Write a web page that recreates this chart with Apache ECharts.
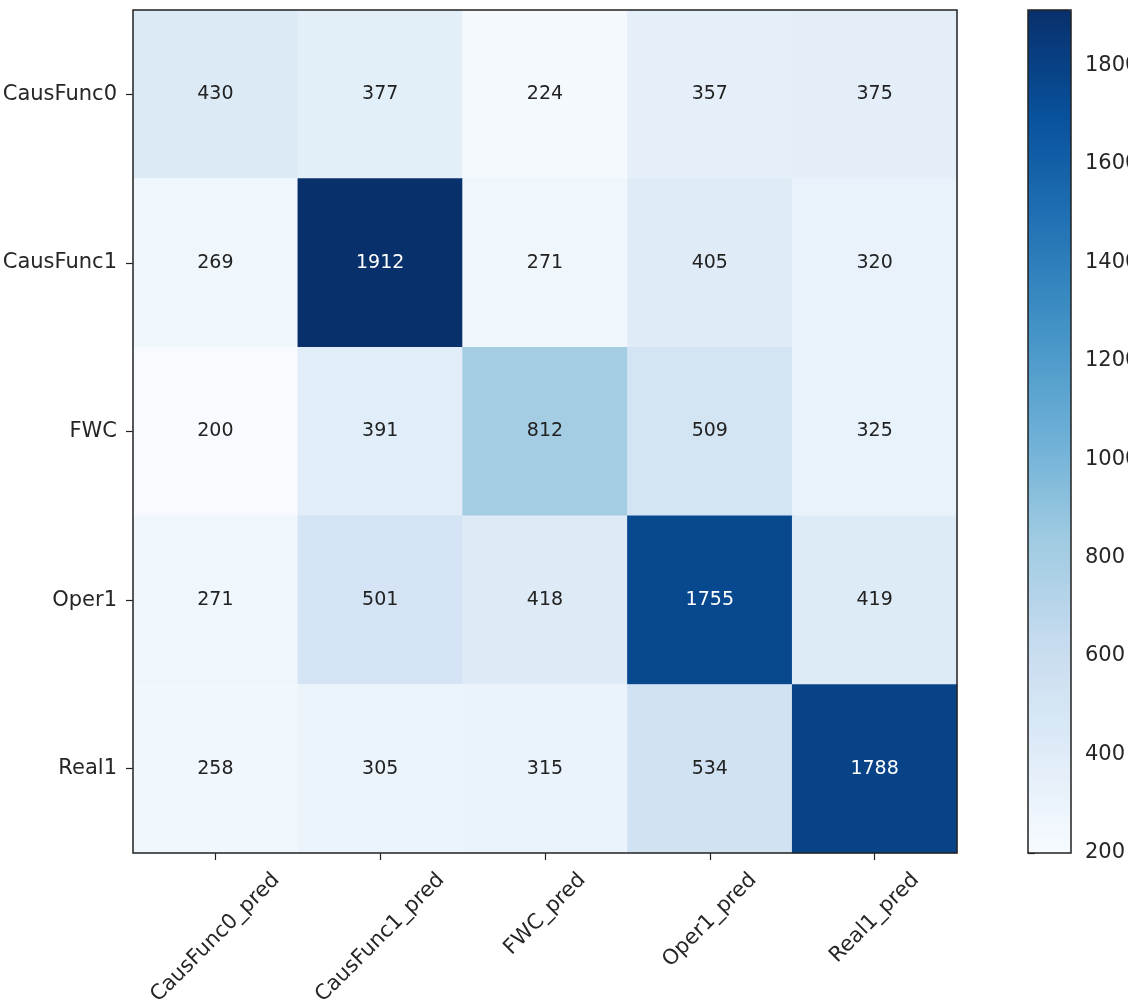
<!DOCTYPE html>
<html>
<head>
<meta charset="utf-8">
<script src="https://cdn.jsdelivr.net/npm/echarts@6/dist/echarts.min.js"></script>
<style>
html, body { margin: 0; padding: 0; background: #fff; }
#main { width: 1128px; height: 1008px; }
</style>
</head>
<body>
<div id="main"></div>
<script>
var rowLabels = ['CausFunc0', 'CausFunc1', 'FWC', 'Oper1', 'Real1'];
var colLabels = ['CausFunc0_pred', 'CausFunc1_pred', 'FWC_pred', 'Oper1_pred', 'Real1_pred'];

// one array per true class (row), columns = predicted class
var rowCausFunc0 = [430, 377, 224, 357, 375];
var rowCausFunc1 = [269, 1912, 271, 405, 320];
var rowFWC = [200, 391, 812, 509, 325];
var rowOper1 = [271, 501, 418, 1755, 419];
var rowReal1 = [258, 305, 315, 534, 1788];

var barTicks = [200, 400, 600, 800, 1000, 1200, 1400, 1600, 1800];
var barMin = 200;
var barMax = 1912;

var blues = ['#f7fbff', '#deebf7', '#c6dbef', '#9ecae1', '#6baed6', '#4292c6', '#2171b5', '#08519c', '#08306b'];
var CELL_FONT = 19;
var TICK_FONT = 21;
var FONT_FAMILY = 'DejaVu Sans';
var LABEL_GAP = 15;

function buildData() {
    var rows = [rowCausFunc0, rowCausFunc1, rowFWC, rowOper1, rowReal1];
    var thresh = barMax / 2;
    var out = [];
    for (var i = 0; i < rows.length; i++) {
        for (var j = 0; j < rows[i].length; j++) {
            var v = rows[i][j];
            out.push({
                value: [j, i, v],
                label: { color: v > thresh ? '#ffffff' : '#222222' }
            });
        }
    }
    return out;
}

var measureCtx = document.createElement('canvas').getContext('2d');
measureCtx.font = TICK_FONT + 'px "' + FONT_FAMILY + '"';

// rotated x labels, centred under their tick like matplotlib does
function renderXLabel(params, api) {
    var p = api.coord([api.value(0), api.value(1)]);
    var cell = api.size([1, 1]);
    var name = colLabels[params.dataIndex];
    var L = measureCtx.measureText(name).width;
    var top = p[1] + cell[1] / 2 + LABEL_GAP;
    return {
        type: 'text',
        x: p[0],
        y: top + 0.354 * (L + 1.17 * TICK_FONT),
        rotation: Math.PI / 4,
        silent: true,
        style: {
            text: name,
            fontSize: TICK_FONT,
            fontFamily: FONT_FAMILY,
            fill: '#262626',
            align: 'center',
            verticalAlign: 'middle'
        }
    };
}

var chart = echarts.init(document.getElementById('main'));
var option = {
    animation: false,
    backgroundColor: '#ffffff',
    textStyle: { fontFamily: FONT_FAMILY },
    grid: [
        { left: 133, top: 10, width: 824, height: 843, show: true, z: 5,
          borderColor: '#222', borderWidth: 1.5, backgroundColor: 'transparent', outerBoundsMode: 'none' },
        { left: 1028, top: 10, width: 43, height: 843, show: true, z: 10,
          borderColor: '#222', borderWidth: 1.5, backgroundColor: 'transparent', outerBoundsMode: 'none' }
    ],
    xAxis: [
        {
            type: 'category', gridIndex: 0, data: colLabels,
            axisLine: { show: false },
            axisTick: { show: true, alignWithLabel: true, length: 7, lineStyle: { color: '#222', width: 1.2 } },
            axisLabel: { show: false },
            splitLine: { show: false }
        },
        { type: 'value', gridIndex: 1, min: 0, max: 1, show: false }
    ],
    yAxis: [
        {
            type: 'category', gridIndex: 0, data: rowLabels, inverse: true,
            axisLine: { show: false },
            axisTick: { show: true, alignWithLabel: true, length: 7, lineStyle: { color: '#222', width: 1.2 } },
            axisLabel: { margin: 16, fontSize: TICK_FONT, color: '#262626' },
            splitLine: { show: false }
        },
        {
            type: 'value', gridIndex: 1, position: 'right', min: barMin, max: barMax,
            axisLine: { show: false },
            axisTick: { show: true, length: 7, customValues: barTicks, lineStyle: { color: '#222', width: 1.2 } },
            axisLabel: { margin: 14, fontSize: TICK_FONT, color: '#262626', customValues: barTicks,
                         formatter: function (v) { return String(v); } },
            splitLine: { show: false }
        }
    ],
    visualMap: {
        type: 'continuous',
        seriesIndex: 0,
        min: barMin,
        max: barMax,
        calculable: false,
        orient: 'vertical',
        left: 1028,
        top: 10,
        itemWidth: 43,
        itemHeight: 843,
        padding: 0,
        text: null,
        inRange: { color: blues },
        z: 2
    },
    series: [
        {
            type: 'heatmap',
            xAxisIndex: 0,
            yAxisIndex: 0,
            data: buildData(),
            label: { show: true, fontSize: CELL_FONT, fontFamily: FONT_FAMILY,
                     formatter: function (p) { return p.value[2]; } },
            itemStyle: { borderWidth: 0 },
            emphasis: { disabled: true }
        },
        {
            type: 'custom',
            coordinateSystem: 'cartesian2d',
            xAxisIndex: 0,
            yAxisIndex: 0,
            clip: false,
            silent: true,
            z: 6,
            data: colLabels.map(function (c, i) { return [i, rowLabels.length - 1]; }),
            renderItem: renderXLabel
        }
    ]
};
chart.setOption(option);
</script>
</body>
</html>
